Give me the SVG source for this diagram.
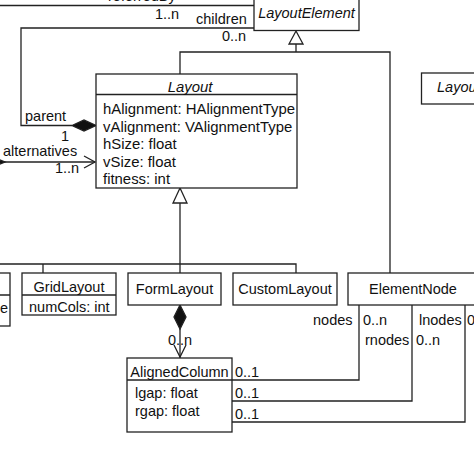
<svg xmlns="http://www.w3.org/2000/svg" width="474" height="474" viewBox="0 0 474 474">
<style>
.b{fill:#fff;stroke:#222;stroke-width:1.3}
.l{fill:none;stroke:#222;stroke-width:1.3}
.t{font-family:"Liberation Sans",Arial,sans-serif;font-size:14.5px;fill:#111}
.a{font-size:14.9px}
.i{font-style:italic}
.m{text-anchor:middle}
.f{fill:#111;stroke:#222;stroke-width:1.3}
.h{fill:#fff;stroke:#222;stroke-width:1.3}
</style>
<rect width="474" height="474" fill="#fff"/>
<g id="connectors">
  <polyline class="l" points="0,5.5 254,5.5"/>
  <text class="t" x="108" y="1">referredBy</text>
  <text class="t" x="155" y="19">1..n</text>
  <polyline class="l" points="254,28 21,28 21,125.5 72,125.5"/>
  <text class="t" x="196" y="24">children</text>
  <text class="t" x="222" y="41">0..n</text>
  <text class="t" x="25" y="121">parent</text>
  <text class="t" x="61" y="141">1</text>
  <polygon class="f" points="72,125.5 84,120 96,125.5 84,131"/>
  <polyline class="l" points="0,162 95,162"/>
  <polygon class="f" points="-19,162 -7,157 5,162 -7,167"/>
  <polyline class="l" points="84,156 95,162 84,168"/>
  <text class="t" x="3" y="156">alternatives</text>
  <text class="t" x="55" y="173">1..n</text>
  <polyline class="l" points="296,44 296,52"/>
  <polyline class="l" points="180,74 180,52 390,52 390,273"/>
  <polygon class="h" points="296,31 303,44 289,44"/>
  <polyline class="l" points="180,203 180,264"/>
  <polyline class="l" points="0,264 296,264 296,273"/>
  <polyline class="l" points="43,264 43,273"/>
  <polyline class="l" points="180,264 180,273"/>
  <polygon class="h" points="180,188 187,203 173,203"/>
  <polyline class="l" points="180,329 180,358"/>
  <polygon class="f" points="180,305 186,317 180,329 174,317"/>
  <polyline class="l" points="174,345 180,357 186,345"/>
  <text class="t" x="168" y="345">0..n</text>
  <polyline class="l" points="359,305 359,380 232,380"/>
  <polyline class="l" points="412,305 412,401 232,401"/>
  <polyline class="l" points="465,305 465,422 232,422"/>
  <text class="t" x="313" y="325">nodes</text>
  <text class="t" x="363" y="325">0..n</text>
  <text class="t" x="365" y="345">rnodes</text>
  <text class="t" x="416" y="345">0..n</text>
  <text class="t" x="419" y="325">lnodes</text>
  <text class="t" x="467" y="325">0..n</text>
  <text class="t" x="235" y="377">0..1</text>
  <text class="t" x="235" y="398">0..1</text>
  <text class="t" x="235" y="419">0..1</text>
</g>
<g id="LayoutElement">
  <rect class="b" x="254" y="-10" width="105" height="40.5"/>
  <text class="t i m" x="306.5" y="18">LayoutElement</text>
</g>
<g id="Layout">
  <rect class="b" x="96" y="74" width="201" height="114"/>
  <line class="l" x1="96" y1="94.5" x2="297" y2="94.5"/>
  <text class="t a i m" x="190" y="92">Layout</text>
  <text class="t a" x="103" y="114">hAlignment: HAlignmentType</text>
  <text class="t a" x="103" y="131.5">vAlignment: VAlignmentType</text>
  <text class="t a" x="103" y="149">hSize: float</text>
  <text class="t a" x="103" y="166.5">vSize: float</text>
  <text class="t a" x="103" y="184">fitness: int</text>
</g>
<g id="LayoutRight">
  <rect class="b" x="421.5" y="73" width="70" height="31"/>
  <text class="t i" x="437" y="92">Layout</text>
</g>
<g id="LeftLayout">
  <rect class="b" x="-40" y="273" width="50" height="53"/>
  <line class="l" x1="-40" y1="295" x2="10" y2="295"/>
  <text class="t" x="0" y="313">e</text>
</g>
<g id="GridLayout">
  <rect class="b" x="22" y="273" width="94" height="42"/>
  <line class="l" x1="22" y1="295" x2="116" y2="295"/>
  <text class="t m" x="69" y="292">GridLayout</text>
  <text class="t" x="29" y="312">numCols: int</text>
</g>
<g id="FormLayout">
  <rect class="b" x="128" y="273" width="93" height="32"/>
  <text class="t m" x="174.5" y="294">FormLayout</text>
</g>
<g id="CustomLayout">
  <rect class="b" x="233" y="273" width="104" height="32"/>
  <text class="t m" x="285" y="294">CustomLayout</text>
</g>
<g id="ElementNode">
  <rect class="b" x="348" y="273" width="130" height="32"/>
  <text class="t m" x="413" y="294">ElementNode</text>
</g>
<g id="AlignedColumn">
  <rect class="b" x="127" y="358" width="105" height="74"/>
  <line class="l" x1="127" y1="380" x2="232" y2="380"/>
  <text class="t m" x="179.5" y="377">AlignedColumn</text>
  <text class="t" x="135" y="398">lgap: float</text>
  <text class="t" x="135" y="416">rgap: float</text>
</g>
</svg>
